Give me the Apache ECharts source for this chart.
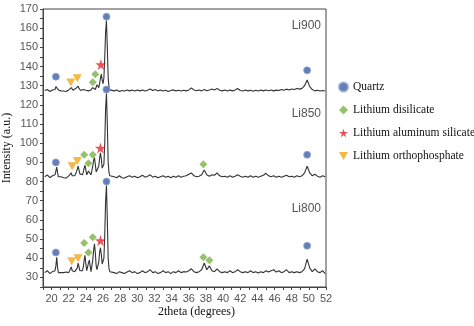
<!DOCTYPE html>
<html>
<head>
<meta charset="utf-8">
<script src="https://cdn.jsdelivr.net/npm/echarts@6/dist/echarts.min.js"></script>
<style>html,body{margin:0;padding:0;background:#fff}#c{width:474px;height:326px}</style>
</head>
<body>
<div id="c"></div>
<script>
// 2theta sample positions
var xs = [19.2,19.5,19.8,20.1,
20.3,20.4,20.5,20.6,20.7,20.8,20.9,21.0,
21.1,21.2,21.3,21.4,21.5,21.6,21.7,21.8,21.9,22.0,
22.1,22.2,22.3,22.4,22.5,22.6,22.7,22.8,22.9,23.0,
23.1,23.2,23.3,23.4,23.5,23.6,23.7,23.8,23.9,24.0,
24.1,24.2,24.3,24.4,24.5,24.6,24.7,24.8,24.9,25.0,
25.1,25.2,25.3,25.4,25.5,25.6,25.7,25.8,25.9,26.0,
26.1,26.2,26.3,26.4,26.5,26.6,26.7,26.8,26.9,27.0,
27.3,27.6,27.9,28.2,28.5,28.8,29.1,29.4,29.7,30.0,
30.3,30.6,30.9,31.2,31.5,31.8,32.1,32.4,32.7,33.0,
33.3,33.6,33.9,34.2,34.5,34.8,35.1,35.4,35.7,36.0,
36.3,36.6,36.9,37.2,37.5,37.8,38.1,38.4,38.7,39.0,
39.3,39.6,39.9,40.2,40.5,40.8,41.1,41.4,41.7,42.0,
42.3,42.6,42.9,43.2,43.5,43.8,44.1,44.4,44.7,45.0,
45.3,45.6,45.9,46.2,46.5,46.8,47.1,47.4,47.7,48.0,
48.3,48.6,48.9,49.2,49.5,49.8,50.1,50.4,50.7,51.0,
51.3,51.6,51.9];

var li800 = [32.5,33.5,32,33,
32.5,33.5,36,40.5,35,32.5,32,33,
32.5,31.8,33,32.5,33.5,32.3,32.8,31.8,33,32.5,
32,33,35.5,33.5,32.5,33.5,33,34,33.5,35,
37.5,35.5,33.5,33,34,33.5,35.5,39,41.5,37,
33.5,34.5,37.5,39,36,33,34,39,44,47.5,
43,36,34,35,38,43,45.5,42,37,36,
40,52,70,78,60,40,34.5,33,32.5,33,
32.5,32,33,32.5,32,32.8,33.5,32.5,33,32,
32.5,33.5,32.5,33,34,32.5,33,32,32.5,33.5,
32.5,33,32,33,32.5,33.5,32.5,33,32.8,33.5,
34.5,33,32.5,33,34,37.5,34,36,33.5,33,
34.5,33,32.5,33,32.5,33.5,32.5,33,34,33,
32.5,33,32.5,33.5,32.5,33,32.3,33,32.5,33.5,
32.8,33.5,34,32.8,33.5,32.5,33,34,32.5,33,
32.5,33,32.5,33,34.5,39.5,35,33,34.5,33,
32.5,33.5,32];

var li850 = [82.5,83.5,82,83,
82.5,83.5,85.5,87.5,84.5,82.5,82,83,
82.5,81.8,82.8,82,83,82.3,81.8,82.5,82,83,
82.5,83,84.5,83,82.5,83.5,83,84,85,86.5,
88,86,84,83.5,84,83.5,85,87,88.5,86,
83.5,84,85.5,86.5,85,83.5,84.5,88,91,92.5,
89,85,84,85,88,92,95,92,87,86,
89,100,118,126,110,90,84.5,83,82.5,83,
82.5,82,83,82,81.8,82.5,83,82.3,82.8,82,
82.5,83.3,82.3,82.8,83.5,82.3,82.8,82,82.5,83,
82.3,82.8,82,82.8,82.3,83,82.3,82.8,83,83.8,
84.5,83,82.5,82.8,83.5,86,83.5,82.8,83.5,83.3,
84.5,83,82.5,82.8,82.3,83,82.3,82.8,83.5,82.8,
82.3,82.8,82.3,83,82.3,82.8,82.3,82.8,83.3,84.3,
83,82.5,83,82.3,82.8,82.3,82.8,83.3,82.5,82.8,
82.3,83,82.5,83,84.5,88,84.5,83,83.8,82.8,
82.3,83,82.5];

var li900 = [127.5,128,127,127.8,
127.5,128,129.5,130.5,129,127.8,127.3,127.8,
127.3,127,127.8,127.2,127.8,127.3,127,127.6,127.2,127.8,
127.5,128,129,128,127.6,128.3,128,128.5,128.2,129,
129.7,128.6,127.8,127.5,128,127.6,128,127.5,128,127.6,
127.4,127.8,127.3,127.8,127.4,127.8,128.3,129,129.6,128.5,
128,129,130.5,129.5,129,131,134,136,133,131,
134,145,158,164,150,134,129,127.8,127.3,127.8,
127.3,127.8,127,127.5,127.2,127.8,127.3,127.7,127.2,127.8,
127.3,127.8,127.2,127.6,128.3,127.5,128,127.3,127.8,127.2,
127.6,127,127.5,127.8,127.3,127.6,127.2,127.6,127.3,127.8,
128.8,127.8,127.4,127.8,127.3,128,127.4,127.8,128.3,127.8,
128.6,127.6,127.3,127.8,127.2,127.7,127.3,127.8,128.5,127.5,
127.2,127.8,127.3,127.6,127.1,127.6,127.2,127.7,127.3,127.8,
127.4,127.8,127.3,127.7,127.5,128,127.6,128.2,127.8,128.3,
128,128.5,128.2,128.6,130,133,129.5,128,127.3,127.6,
127.2,127.5,127.2];

// phase markers [2theta, intensity]
var quartz = [[20.5,43],[26.4,80],[49.8,46.5],[20.5,90],[26.4,128],[49.8,94],[20.5,134.7],[26.4,166],[49.8,138]];
var disilicate = [[23.8,48],[24.3,43],[24.8,51],[37.7,40.5],[38.4,39],[23.8,94],[24.3,89.5],[24.8,94],[37.7,89],[24.8,131.8],[25.1,136]];
var aluSilicate = [[25.7,49.2],[25.7,97.5],[25.75,141]];
var orthophosphate = [[22.35,38.4],[23.1,40],[22.4,88],[23.0,90.7],[22.25,131.6],[23.0,133.9]];

var sampleLabels = ['Li900','Li850','Li800'];
var legendNames = ['Quartz','Lithium disilicate','Lithium aluminum silicate','Lithium orthophosphate'];

function pairs(ys){ return xs.map(function(x,i){ return [x, ys[i]]; }); }

var starPath = 'path://M50,0 L61,35 L98,35 L68,57 L79,91 L50,70 L21,91 L32,57 L2,35 L39,35 Z';
var triPath = 'path://M0,0 L100,0 L50,90 Z';

var chart = echarts.init(document.getElementById('c'));
var lineStyle = {color:'#333', width:1.1};
function lineSeries(name, ys){
  return {name:name, type:'line', data:pairs(ys), showSymbol:false, symbol:'none', lineStyle:lineStyle, z:2, animation:false};
}
chart.setOption({
  animation:false,
  grid:{left:43, right:148, top:9, bottom:39, containLabel:false, outerBoundsMode:'none', show:true, borderColor:'#444', borderWidth:1},
  legend:{
    data:legendNames, orient:'vertical', left:333, top:76, itemWidth:9, itemHeight:9, itemGap:11,
    textStyle:{fontFamily:'Liberation Serif', fontSize:11.5, color:'#111'}
  },
  xAxis:{
    type:'value', min:19, max:52, interval:1,
    name:'2theta (degrees)', nameLocation:'middle', nameGap:19, nameMoveOverlap:false,
    nameTextStyle:{fontFamily:'Liberation Serif', fontSize:12, color:'#111', padding:[0,0,0,24]},
    axisLine:{show:true, lineStyle:{color:'#444'}},
    axisTick:{show:true, length:3, lineStyle:{color:'#444'}},
    axisLabel:{color:'#555', fontSize:11, fontFamily:'Liberation Sans', margin:6,
      formatter:function(v){ return (v%2===0)? String(v) : ''; }},
    splitLine:{show:false}
  },
  yAxis:{
    type:'value', min:25, max:170, interval:5,
    name:'Intensity (a.u.)', nameLocation:'middle', nameGap:30, nameMoveOverlap:false,
    nameTextStyle:{fontFamily:'Liberation Serif', fontSize:12, color:'#111'},
    axisLine:{show:true, lineStyle:{color:'#444'}},
    axisTick:{show:true, length:3, lineStyle:{color:'#444'}},
    axisLabel:{color:'#555', fontSize:11, fontFamily:'Liberation Sans', margin:5,
      formatter:function(v){ return (v%10===0)? String(v) : ''; }},
    splitLine:{show:false}
  },
  graphic:[
    {type:'text', right:474-321, top:20, style:{text:sampleLabels[0], fill:'#555', font:'12px "Liberation Sans"'}},
    {type:'text', right:474-321, top:108, style:{text:sampleLabels[1], fill:'#555', font:'12px "Liberation Sans"'}},
    {type:'text', right:474-321, top:203, style:{text:sampleLabels[2], fill:'#555', font:'12px "Liberation Sans"'}}
  ],
  series:[
    lineSeries('Li800', li800),
    lineSeries('Li850', li850),
    lineSeries('Li900', li900),
    {name:legendNames[0], type:'scatter', data:quartz, symbol:'circle', symbolSize:7, z:5,
      itemStyle:{color:'#3d5fa5', borderColor:'#8ea6d4', borderWidth:1}},
    {name:legendNames[1], type:'scatter', data:disilicate, symbol:'diamond', symbolSize:8, z:5,
      itemStyle:{color:'#79b244'}},
    {name:legendNames[2], type:'scatter', data:aluSilicate, symbol:starPath, symbolSize:11, z:6,
      itemStyle:{color:'#e8262d'}},
    {name:legendNames[3], type:'scatter', data:orthophosphate, symbol:triPath, symbolSize:[9,8], z:5,
      itemStyle:{color:'#f2a516'}}
  ]
});
</script>
</body>
</html>
